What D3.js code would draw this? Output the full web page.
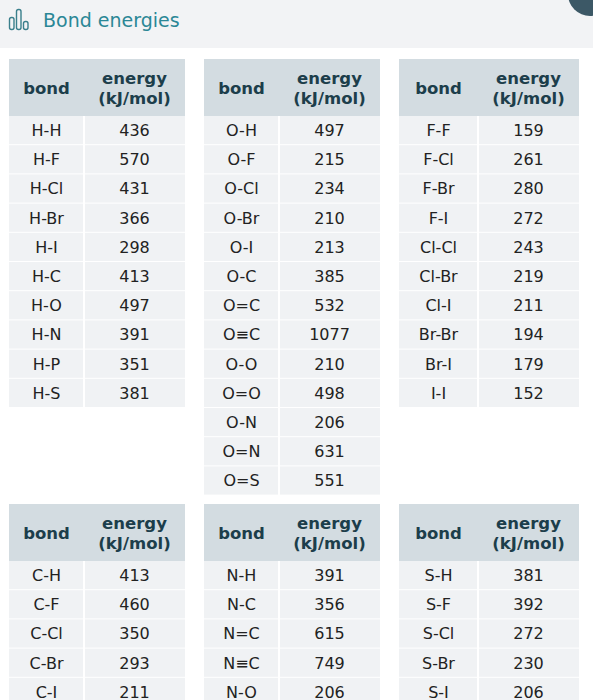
<!DOCTYPE html>
<html><head><meta charset="utf-8">
<script src="https://cdn.jsdelivr.net/npm/d3@7"></script>
<style>body{margin:0;background:#fff}svg{display:block}</style>
</head><body><svg id="c" width="593" height="700"></svg>
<script>
// data: one pair of arrays per table
var hBonds = ["H-H","H-F","H-Cl","H-Br","H-I","H-C","H-O","H-N","H-P","H-S"]
var hEnergy = [436,570,431,366,298,413,497,391,351,381]
var oBonds = ["O-H","O-F","O-Cl","O-Br","O-I","O-C","O=C","O≡C","O-O","O=O","O-N","O=N","O=S"]
var oEnergy = [497,215,234,210,213,385,532,1077,210,498,206,631,551]
var xBonds = ["F-F","F-Cl","F-Br","F-I","Cl-Cl","Cl-Br","Cl-I","Br-Br","Br-I","I-I"]
var xEnergy = [159,261,280,272,243,219,211,194,179,152]
var cBonds = ["C-H","C-F","C-Cl","C-Br","C-I"]
var cEnergy = [413,460,350,293,211]
var nBonds = ["N-H","N-C","N=C","N≡C","N-O"]
var nEnergy = [391,356,615,749,206]
var sBonds = ["S-H","S-F","S-Cl","S-Br","S-I"]
var sEnergy = [381,392,272,230,206]

var tables = [
  {bonds:hBonds, energy:hEnergy, col:0, row:0},
  {bonds:oBonds, energy:oEnergy, col:1, row:0},
  {bonds:xBonds, energy:xEnergy, col:2, row:0},
  {bonds:cBonds, energy:cEnergy, col:0, row:1},
  {bonds:nBonds, energy:nEnergy, col:1, row:1},
  {bonds:sBonds, energy:sEnergy, col:2, row:1}
]

var svg = d3.select("#c")
var font = "Verdana, 'DejaVu Sans', sans-serif"

// top band
svg.append("rect").attr("width",593).attr("height",48).attr("fill","#f2f3f5")
svg.append("circle").attr("cx",590).attr("cy",-6).attr("r",22).attr("fill","#3c5866")
var icon = svg.append("g").attr("fill","none").attr("stroke","#3a7f8c").attr("stroke-width",1.4)
icon.append("rect").attr("x",9.5).attr("y",17.5).attr("width",4.5).attr("height",12).attr("rx",2)
icon.append("rect").attr("x",16.5).attr("y",9.5).attr("width",4.5).attr("height",20).attr("rx",2)
icon.append("rect").attr("x",23.5).attr("y",21.5).attr("width",4.5).attr("height",8).attr("rx",2)
svg.append("text").attr("x",43).attr("y",27).attr("font-family",font)
  .attr("font-size",19).attr("fill","#2b8796").text("Bond energies")

var colX = d3.scalePoint().domain([0,1,2]).range([9,399])
var tableTop = [59, 504]
var headH = 57, rowH = 29.2

tables.forEach(function(t) {
  var x0 = colX(t.col), w = t.col == 2 ? 180 : 176, split = t.col == 2 ? 79 : 75
  var g = svg.append("g").attr("transform","translate(" + x0 + "," + tableTop[t.row] + ")")
  g.append("rect").attr("width",w).attr("height",headH).attr("fill","#d3dce1")
  var ht = g.append("g").attr("font-family",font).attr("font-weight","bold")
    .attr("font-size",16.5).attr("fill","#1c3e4b").attr("text-anchor","middle")
  ht.append("text").attr("x",split/2).attr("y",headH/2+6).text("bond")
  ht.append("text").attr("x",split+(w-split)/2).attr("y",headH/2-4).text("energy")
  ht.append("text").attr("x",split+(w-split)/2).attr("y",headH/2+16).text("(kJ/mol)")

  var y = d3.scaleLinear().domain([0,1]).range([headH, headH+rowH])
  var rows = g.selectAll("g.row").data(d3.zip(t.bonds, t.energy)).enter().append("g")
    .attr("class","row").attr("transform",function(d,i){return "translate(0," + y(i) + ")"})
  rows.append("rect").attr("width",split-1).attr("height",rowH-1).attr("fill","#f0f2f4")
  rows.append("rect").attr("x",split+1).attr("width",w-split-1).attr("height",rowH-1).attr("fill","#f0f2f4")
  rows.append("text").attr("x",split/2).attr("y",rowH/2+5.5).attr("text-anchor","middle")
    .attr("font-family",font).attr("font-size",16).attr("fill","#222").text(function(d){return d[0]})
  rows.append("text").attr("x",split+(w-split)/2).attr("y",rowH/2+5.5).attr("text-anchor","middle")
    .attr("font-family",font).attr("font-size",16).attr("fill","#222").text(function(d){return d[1]})
})
</script></body></html>
